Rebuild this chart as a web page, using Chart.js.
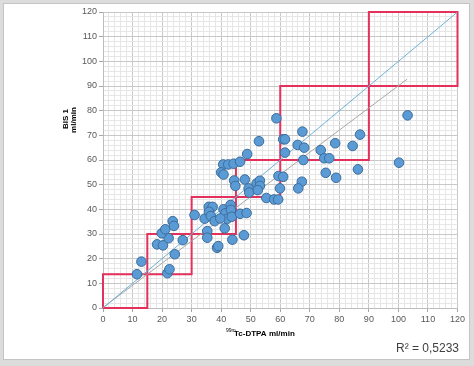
<!DOCTYPE html>
<html>
<head>
<meta charset="utf-8">
<script src="https://cdn.jsdelivr.net/npm/chart.js@4/dist/chart.umd.min.js"></script>
<style>
html,body{margin:0;padding:0;background:#fff;}
#wrap{position:relative;width:474px;height:366px;}
</style>
</head>
<body>
<div id="wrap"><canvas id="c" width="474" height="366"></canvas></div>
<script>
// 99mTc-DTPA clearance (x) vs BIS 1 (y), ml/min
const dtpa = [11.5,13.0,21.8,22.5,24.3,27.0,18.3,20.3,22.2,19.9,21.1,23.6,24.0,31.0,34.4,35.8,37.1,35.9,36.5,37.8,
  35.3,35.3,38.6,39.0,41.2,40.8,41.4,42.1,39.7,43.2,43.3,43.8,43.6,46.4,48.6,47.7,40.7,42.4,44.2,46.4,
  40.0,40.8,44.4,44.8,48.0,49.3,49.5,52.0,53.1,53.1,52.4,55.3,57.9,59.3,59.4,61.0,59.9,48.8,52.8,58.7,
  61.0,61.6,61.6,67.5,65.9,68.1,67.8,73.7,74.9,76.6,78.6,84.5,87.0,86.3,75.4,78.9,67.3,66.1,103.1,100.2];
const bis1 = [13.7,18.8,14.1,15.7,21.8,27.5,25.8,25.4,28.3,30.3,31.9,35.2,33.3,37.7,36.2,41.0,41.0,39.0,37.3,35.2,
  31.2,28.5,24.4,25.1,32.3,40.0,38.4,36.2,36.3,41.8,39.8,27.7,37.0,38.2,38.5,29.5,58.2,58.2,58.5,59.3,
  55.0,54.1,51.7,49.5,52.1,48.5,46.8,50.5,51.6,49.5,47.8,44.6,44.0,44.0,53.5,53.2,48.5,62.4,67.6,76.9,
  68.4,68.4,63.0,71.5,66.1,65.0,60.0,64.0,60.7,60.7,66.8,65.7,70.3,56.2,54.8,52.8,51.2,48.5,78.1,58.9];

// category boxes (x range, y range)
const boxX0 = [0, 15, 30, 45, 60, 90];
const boxX1 = [15, 30, 45, 60, 90, 120];
const boxY0 = [0, 13.7, 30, 45, 60, 90];
const boxY1 = [13.7, 30, 45, 60, 90, 120];

// identity line and trend line end points
const identX = [0, 120];
const identY = [0, 120];
const trendX = [0, 103];
const trendY = [0.2, 92.8];

const xTickLabels = [0,10,20,30,40,50,60,70,80,90,100,110,120];
const yTickLabels = [0,10,20,30,40,50,60,70,80,90,100,110,120];
const r2Text = 'R\u00B2 = 0,5233';

const pts = dtpa.map((x, i) => ({x: x, y: bis1[i]}));
const boxSets = boxX0.map((x0, i) => ({
  data: [{x:x0,y:boxY0[i]},{x:boxX1[i],y:boxY0[i]},{x:boxX1[i],y:boxY1[i]},{x:x0,y:boxY1[i]},{x:x0,y:boxY0[i]}],
  showLine: true, borderColor: '#e3315c', borderWidth: 2, pointRadius: 0, fill: false, tension: 0,
  clip: false, order: 3
}));

const frame = {
  id: 'frame',
  beforeDraw(chart) {
    const c = chart.ctx;
    c.save();
    c.fillStyle = '#dcdcdc';
    c.fillRect(0, 0, 474, 366);
    c.fillStyle = '#ffffff';
    c.fillRect(3, 3, 467, 357);
    c.strokeStyle = '#c4c4c4';
    c.lineWidth = 1;
    c.strokeRect(3.5, 3.5, 466, 356);
    c.restore();
  },
  afterDraw(chart) {
    const c = chart.ctx;
    c.save();
    c.fillStyle = '#000';
    // y title
    c.font = 'bold 8px "Liberation Sans", Arial, sans-serif';
    c.textAlign = 'center';
    c.textBaseline = 'middle';
    c.save(); c.translate(66, 119); c.rotate(-Math.PI/2); c.fillText('BIS 1', 0, 0); c.restore();
    c.save(); c.translate(74, 120); c.rotate(-Math.PI/2); c.fillText('ml/min', 0, 0); c.restore();
    // x title
    c.textAlign = 'left';
    c.textBaseline = 'alphabetic';
    c.font = '5px "Liberation Sans", Arial, sans-serif';
    c.fillText('99m', 226, 332);
    c.font = 'bold 8px "Liberation Sans", Arial, sans-serif';
    c.fillText('Tc-DTPA', 234, 336);
    c.fillText('ml/min', 269, 336);
    // R2
    c.fillStyle = '#404040';
    c.font = '12px "Liberation Sans", Arial, sans-serif';
    c.fillText(r2Text, 396, 352);
    c.restore();
  }
};

function gridColor(ctx){ return (ctx.tick && ctx.tick.value % 10 === 0) ? '#c8c8c8' : '#e6e6e6'; }
function tickColor(ctx){ return (ctx.tick && ctx.tick.value % 10 === 0) ? '#a8a8a8' : 'rgba(0,0,0,0)'; }

new Chart(document.getElementById('c'), {
  type: 'scatter',
  data: {
    datasets: [
      { data: pts, backgroundColor: '#5b9bd5', borderColor: '#3b6c9c', borderWidth: 1, pointRadius: 4.8, order: 0 },
      { data: identX.map((x,i)=>({x:x,y:identY[i]})), showLine: true, borderColor: '#6eb0d8', borderWidth: 1, pointRadius: 0, order: 1 },
      { data: trendX.map((x,i)=>({x:x,y:trendY[i]})), showLine: true, borderColor: '#a6a6a6', borderWidth: 1, pointRadius: 0, order: 2 },
      ...boxSets
    ]
  },
  options: {
    responsive: false,
    animation: false,
    events: [],
    layout: { padding: { left: 0, right: 16.5, top: 12, bottom: 0 } },
    plugins: { legend: { display: false }, tooltip: { enabled: false } },
    scales: {
      x: {
        type: 'linear', min: 0, max: 120,
        afterFit(s){ s.height = 58; },
        border: { color: '#bdbdbd' },
        grid: { color: gridColor, tickColor: tickColor, tickLength: 4 },
        ticks: { stepSize: 2, autoSkip: false, maxRotation: 0, padding: 2, color: '#595959',
          font: { family: '"Liberation Sans", Arial, sans-serif', size: 9 },
          callback: v => xTickLabels.includes(v) ? String(v) : '' }
      },
      y: {
        type: 'linear', min: 0, max: 120,
        afterFit(s){ s.width = 103; },
        border: { color: '#bdbdbd' },
        grid: { color: gridColor, tickColor: tickColor, tickLength: 4 },
        ticks: { stepSize: 2, autoSkip: false, padding: 2, color: '#595959',
          font: { family: '"Liberation Sans", Arial, sans-serif', size: 9 },
          callback: v => yTickLabels.includes(v) ? String(v) : '' }
      }
    }
  },
  plugins: [frame]
});
</script>
</body>
</html>
